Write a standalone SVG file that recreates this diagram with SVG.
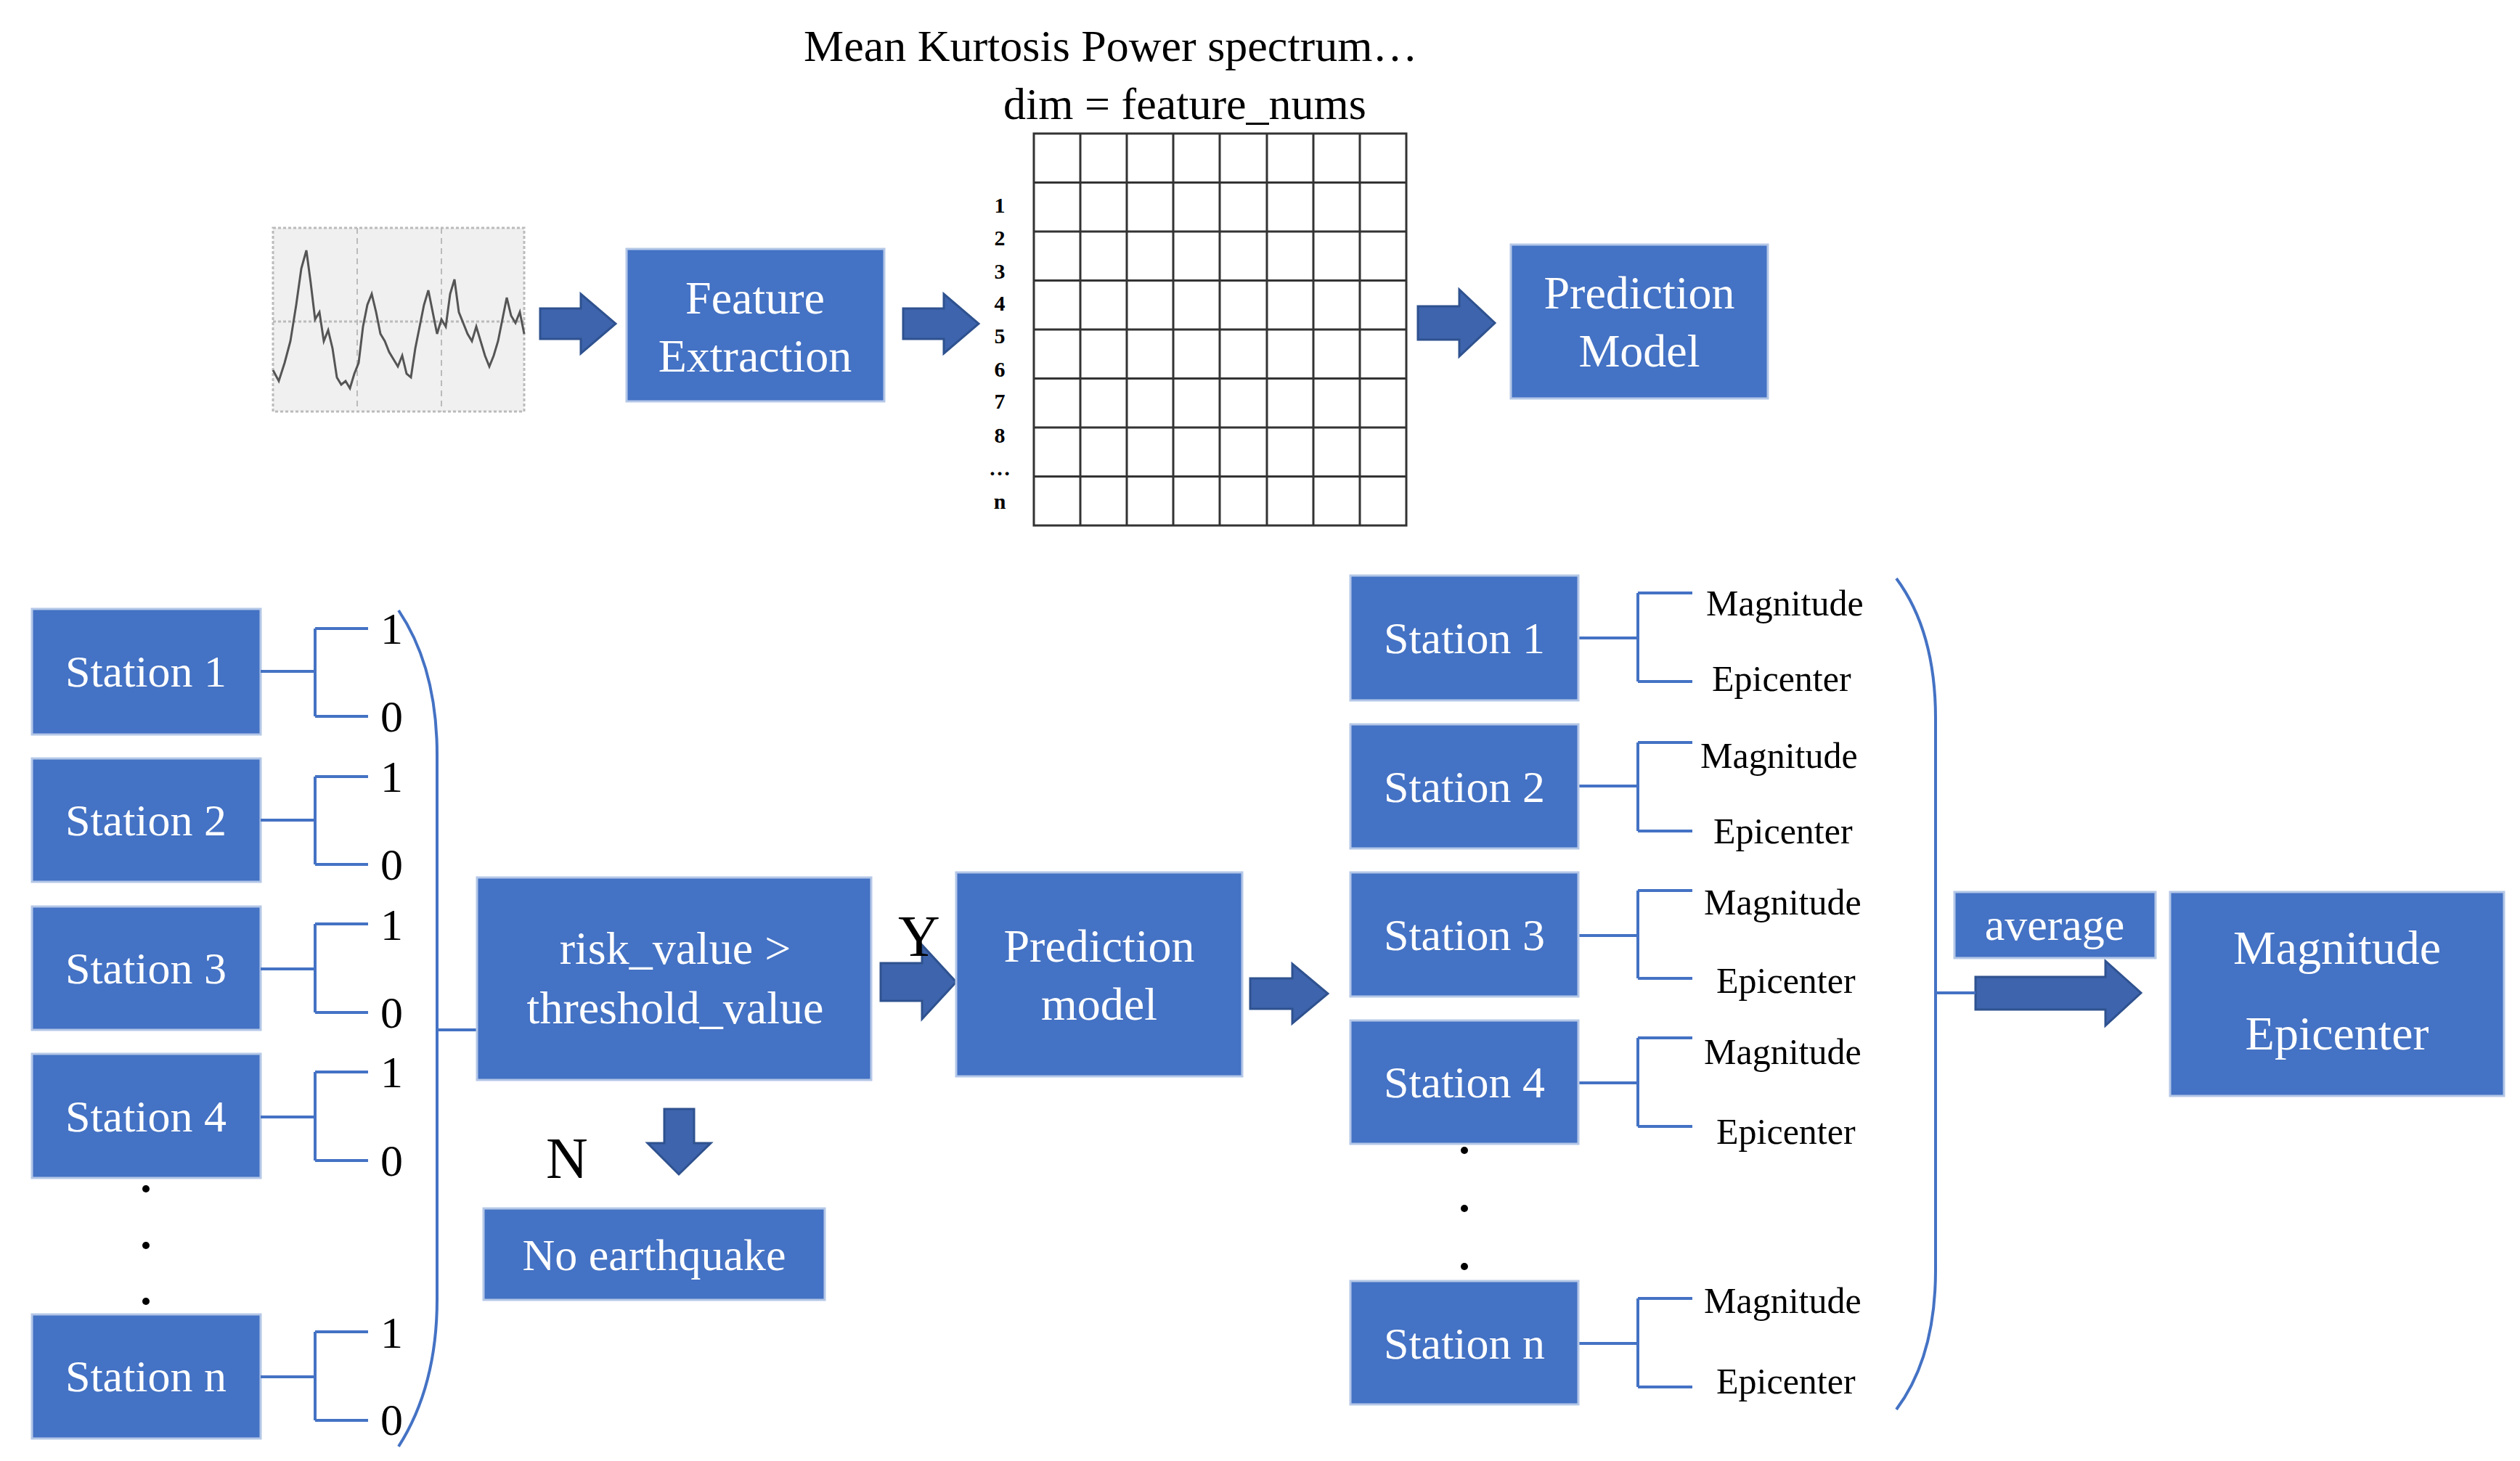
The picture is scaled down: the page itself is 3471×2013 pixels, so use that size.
<svg xmlns="http://www.w3.org/2000/svg" width="3471" height="2013" viewBox="0 0 3471 2013">
<style>
.box{fill:#4472C4;stroke:#B4C7E7;stroke-width:3}
.bt{font-family:"Liberation Serif",serif;fill:#fff;text-anchor:middle}
.t{font-family:"Liberation Serif",serif;fill:#000}
.arr{fill:#3E64AD;stroke:#2F528F;stroke-width:3}
.ln{fill:none;stroke:#4472C4;stroke-width:4}
.g{stroke:#333;stroke-width:3;fill:none}
</style>
<rect width="3471" height="2013" fill="#fff"/>
<g id="waveform">
<rect x="376" y="314" width="346" height="253" fill="#f0f0f0" stroke="#bbb" stroke-width="3" stroke-dasharray="4,3"/>
<line x1="492" y1="314" x2="492" y2="567" stroke="#bbb" stroke-width="2" stroke-dasharray="8,6"/>
<line x1="608" y1="314" x2="608" y2="567" stroke="#bbb" stroke-width="2" stroke-dasharray="8,6"/>
<line x1="376" y1="443" x2="722" y2="443" stroke="#bbb" stroke-width="3" stroke-dasharray="4,3"/>
<polyline fill="none" stroke="#555" stroke-width="3" points="376,510 384,525 392,500 400,470 408,420 415,370 422,345 428,390 434,440 440,430 446,470 452,455 458,480 464,520 470,530 476,525 482,535 488,515 494,500 500,450 506,420 512,405 518,430 524,460 530,470 536,485 542,495 548,505 554,490 560,515 566,520 572,480 578,450 584,420 590,400 596,430 602,460 608,440 614,450 620,405 626,385 632,430 638,445 644,460 650,470 656,450 662,470 668,490 674,505 680,490 686,470 692,440 698,410 704,435 710,445 716,430 722,460"/>
</g>
<g id="arrows">
<path class="arr" d="M744,425 H800 V405 L848,446 L800,487 V467 H744Z"/>
<path class="arr" d="M1244,425 H1300 V405 L1348,446 L1300,487 V467 H1244Z"/>
<path class="arr" d="M1953,422 H2010 V399 L2059,445 L2010,491 V468 H1953Z"/>
<path class="arr" d="M1213,1327 H1270 V1302 L1317,1353 L1270,1404 V1379 H1213Z"/>
<path class="arr" d="M1722,1348 H1780 V1328 L1829,1369 L1780,1410 V1390 H1722Z"/>
<path class="arr" d="M915,1528 H956 V1575 H979 L935,1618 L892,1575 H915Z"/>
<path class="arr" d="M2721,1346 H2900 V1324 L2949,1368 L2900,1413 V1391 H2721Z"/>
</g>
<g id="feature-extraction">
<rect class="box" x="863" y="343" width="355" height="210"/>
<text class="bt" font-size="64" x="1040" y="432">Feature</text>
<text class="bt" font-size="64" x="1040" y="512">Extraction</text>
</g>
<g id="feature-matrix">
<text class="t" font-size="62" x="1107" y="84">Mean   Kurtosis    Power spectrum…</text>
<text class="t" font-size="62" x="1632" y="164" text-anchor="middle">dim = feature_nums</text>
<rect class="g" x="1424" y="184" width="513" height="540"/>
<path class="g" d="M1488,184V724M1552,184V724M1616,184V724M1680,184V724M1745,184V724M1809,184V724M1873,184V724M1424,251.5H1937M1424,319H1937M1424,386.5H1937M1424,454H1937M1424,521.5H1937M1424,589H1937M1424,656.5H1937"/>
<g class="t" font-size="30" font-weight="bold" text-anchor="middle">
<text x="1377" y="293">1</text><text x="1377" y="338">2</text><text x="1377" y="384">3</text><text x="1377" y="428">4</text><text x="1377" y="473">5</text><text x="1377" y="519">6</text><text x="1377" y="563">7</text><text x="1377" y="610">8</text><text x="1377" y="655">…</text><text x="1377" y="701">n</text>
</g>
</g>
<g id="prediction-model-top">
<rect class="box" x="2081" y="337" width="354" height="212"/>
<text class="bt" font-size="64" x="2258" y="425">Prediction</text>
<text class="bt" font-size="64" x="2258" y="505">Model</text>
</g>
<g id="left-stations">
<rect class="box" x="44" y="839" width="315" height="173"/><text class="bt" font-size="62" x="201" y="946">Station 1</text>
<rect class="box" x="44" y="1045" width="315" height="170"/><text class="bt" font-size="62" x="201" y="1151">Station 2</text>
<rect class="box" x="44" y="1249" width="315" height="170"/><text class="bt" font-size="62" x="201" y="1355">Station 3</text>
<rect class="box" x="44" y="1452" width="315" height="171"/><text class="bt" font-size="62" x="201" y="1559">Station 4</text>
<rect class="box" x="44" y="1811" width="315" height="171"/><text class="bt" font-size="62" x="201" y="1917">Station n</text>
<g fill="#000"><circle cx="201" cy="1638" r="5"/><circle cx="201" cy="1716" r="5"/><circle cx="201" cy="1793" r="5"/></g>
</g>
<g id="connectors">
<path class="ln" d="M359,925H434M434,866V987M434,866H507M434,987H507"/>
<path class="ln" d="M359,1130H434M434,1070V1191M434,1070H507M434,1191H507"/>
<path class="ln" d="M359,1335H434M434,1273V1395M434,1273H507M434,1395H507"/>
<path class="ln" d="M359,1539H434M434,1477V1599M434,1477H507M434,1599H507"/>
<path class="ln" d="M359,1897H434M434,1835V1957M434,1835H507M434,1957H507"/>
<path class="ln" d="M549,841 Q602,920 602,1040 V1790 Q602,1910 549,1993"/>
<path class="ln" d="M602,1419H657"/>
<path class="ln" d="M2174,879H2256M2256,817V939M2256,817H2331M2256,939H2331"/>
<path class="ln" d="M2174,1083H2256M2256,1023V1145M2256,1023H2331M2256,1145H2331"/>
<path class="ln" d="M2174,1289H2256M2256,1227V1348M2256,1227H2331M2256,1348H2331"/>
<path class="ln" d="M2174,1492H2256M2256,1430V1552M2256,1430H2331M2256,1552H2331"/>
<path class="ln" d="M2174,1851H2256M2256,1789V1911M2256,1789H2331M2256,1911H2331"/>
<path class="ln" d="M2612,797 Q2666,870 2666,990 V1750 Q2666,1870 2612,1942"/>
<path class="ln" d="M2666,1368H2721"/>
</g>
<g id="binary-labels" class="t" font-size="62">
<text x="524" y="887">1</text><text x="524" y="1008">0</text>
<text x="524" y="1091">1</text><text x="524" y="1212">0</text>
<text x="524" y="1295">1</text><text x="524" y="1416">0</text>
<text x="524" y="1498">1</text><text x="524" y="1620">0</text>
<text x="524" y="1857">1</text><text x="524" y="1977">0</text>
</g>
<g id="risk-check">
<rect class="box" x="657" y="1209" width="543" height="279"/>
<text class="bt" font-size="64" x="930" y="1328">risk_value &gt;</text>
<text class="bt" font-size="64" x="930" y="1410">threshold_value</text>
<text class="t" font-size="80" x="1266" y="1317" text-anchor="middle">Y</text>
<text class="t" font-size="80" x="781" y="1623" text-anchor="middle">N</text>
</g>
<g id="no-earthquake">
<rect class="box" x="666" y="1665" width="470" height="126"/>
<text class="bt" font-size="62" x="901" y="1750">No earthquake</text>
</g>
<g id="prediction-model">
<rect class="box" x="1317" y="1202" width="394" height="281"/>
<text class="bt" font-size="64" x="1514" y="1325">Prediction</text>
<text class="bt" font-size="64" x="1514" y="1405">model</text>
</g>
<g id="right-stations">
<rect class="box" x="1860" y="793" width="314" height="172"/><text class="bt" font-size="62" x="2017" y="900">Station 1</text>
<rect class="box" x="1860" y="998" width="314" height="171"/><text class="bt" font-size="62" x="2017" y="1105">Station 2</text>
<rect class="box" x="1860" y="1202" width="314" height="171"/><text class="bt" font-size="62" x="2017" y="1309">Station 3</text>
<rect class="box" x="1860" y="1406" width="314" height="170"/><text class="bt" font-size="62" x="2017" y="1512">Station 4</text>
<rect class="box" x="1860" y="1765" width="314" height="170"/><text class="bt" font-size="62" x="2017" y="1872">Station n</text>
<g fill="#000"><circle cx="2017" cy="1585" r="5"/><circle cx="2017" cy="1665" r="5"/><circle cx="2017" cy="1745" r="5"/></g>
</g>
<g id="output-labels" class="t" font-size="50">
<text x="2350" y="848">Magnitude</text><text x="2358" y="952">Epicenter</text>
<text x="2342" y="1058">Magnitude</text><text x="2360" y="1162">Epicenter</text>
<text x="2347" y="1260">Magnitude</text><text x="2364" y="1368">Epicenter</text>
<text x="2347" y="1466">Magnitude</text><text x="2364" y="1576">Epicenter</text>
<text x="2347" y="1809">Magnitude</text><text x="2364" y="1920">Epicenter</text>
</g>
<g id="average">
<rect class="box" x="2692" y="1229" width="277" height="91"/>
<text class="bt" font-size="62" x="2830" y="1295">average</text>
</g>
<g id="final-output">
<rect class="box" x="2989" y="1229" width="460" height="281"/>
<text class="bt" font-size="66" x="3219" y="1328">Magnitude</text>
<text class="bt" font-size="66" x="3219" y="1446">Epicenter</text>
</g>
</svg>
